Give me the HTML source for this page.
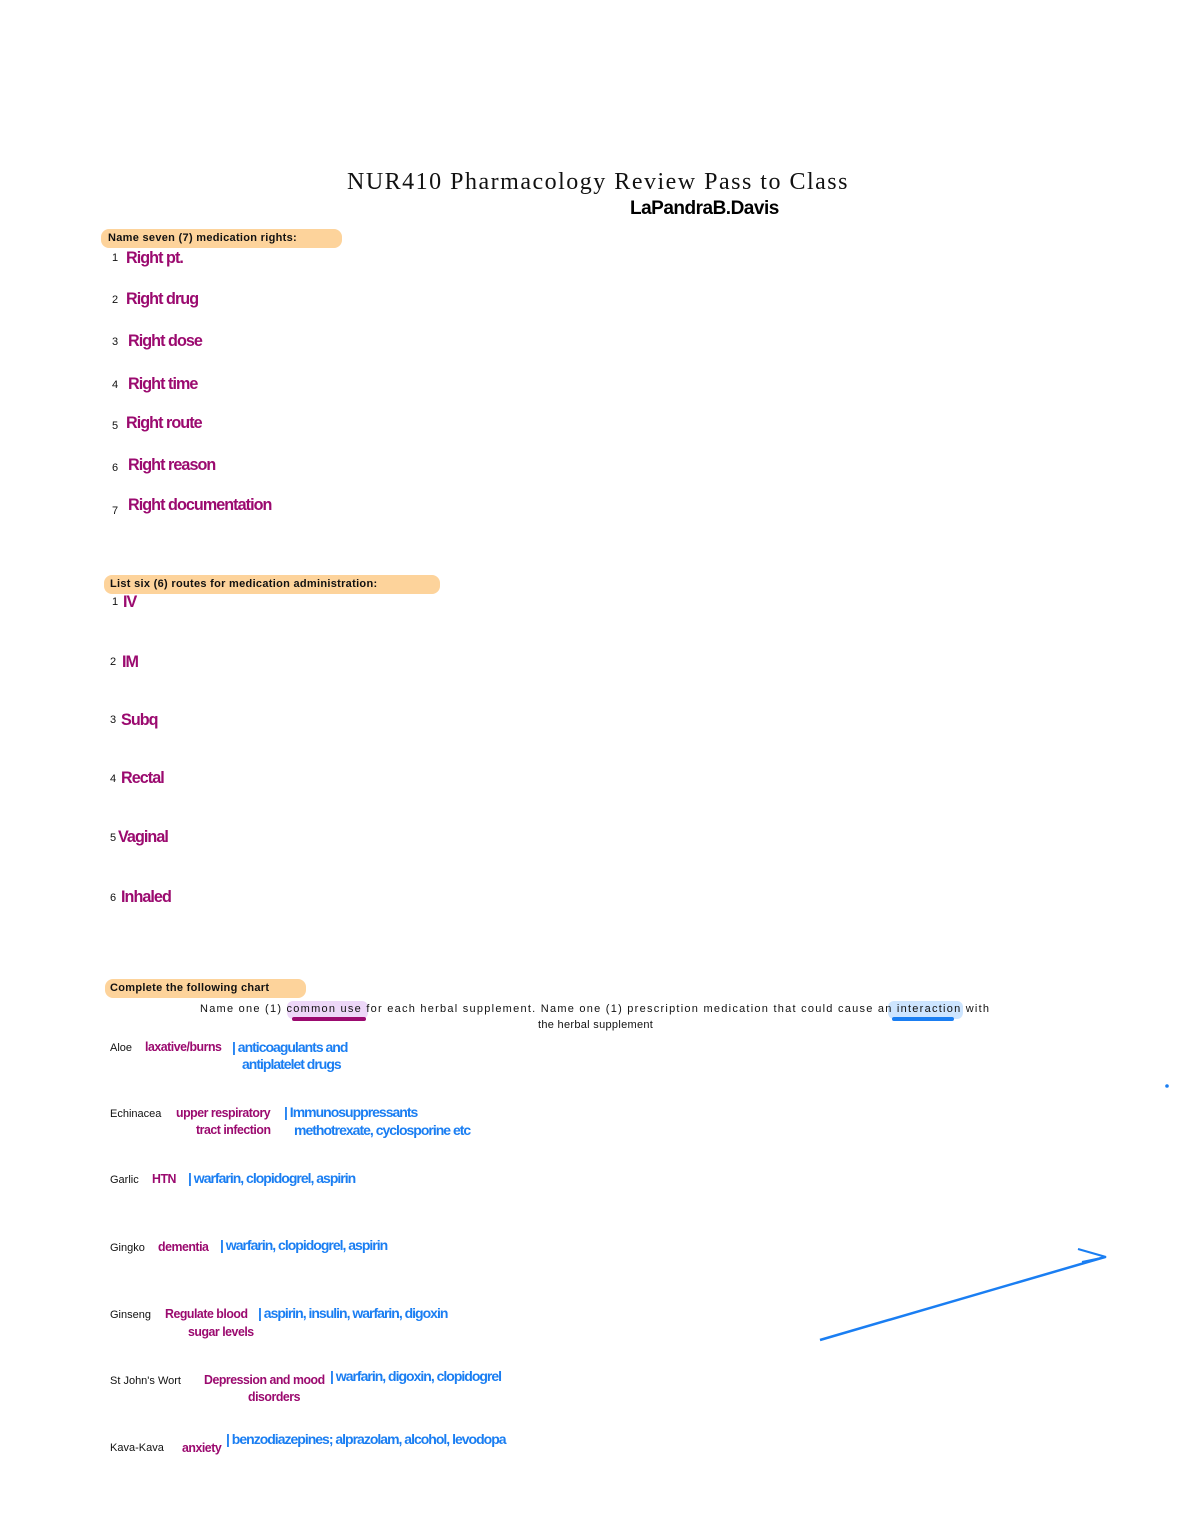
<!DOCTYPE html>
<html><head><meta charset="utf-8"><style>
body{margin:0;background:#fff;}
#p{position:relative;width:1200px;height:1530px;overflow:hidden;font-family:"Liberation Sans",sans-serif;}
.a{position:absolute;white-space:nowrap;}
.hl{position:absolute;background:#fdd39b;border-radius:8px;}
.t{font-size:11px;color:#111;letter-spacing:0.3px;}
.n{font-size:11px;color:#111;}
.m{color:#9b0a6f;font-weight:bold;font-size:17px;letter-spacing:-1px;transform:scaleX(0.95);transform-origin:left;}
.b{color:#1a7ef2;font-weight:bold;font-size:14px;letter-spacing:-1px;}
.s{font-size:13px;font-weight:bold;letter-spacing:-0.5px;}
</style></head><body><div id="p">
<div class="a" style="left:347px;top:169px;font-family:'Liberation Serif',serif;font-size:24px;color:#111;letter-spacing:1.5px;">NUR410 Pharmacology Review Pass to Class</div>
<div class="a" style="left:630px;top:198px;font-size:19px;font-weight:bold;color:#000;letter-spacing:-0.5px;">LaPandraB.Davis</div>

<div class="hl" style="left:101px;top:229px;width:241px;height:19px"></div>
<div class="a t" style="left:108px;top:232px;font-weight:bold">Name seven (7) medication rights:</div>
<div class="a n" style="left:112px;top:252px">1</div><div class="a m" style="left:126px;top:248px">Right pt.</div>
<div class="a n" style="left:112px;top:294px">2</div><div class="a m" style="left:126px;top:289px">Right drug</div>
<div class="a n" style="left:112px;top:336px">3</div><div class="a m" style="left:128px;top:331px">Right dose</div>
<div class="a n" style="left:112px;top:379px">4</div><div class="a m" style="left:128px;top:374px">Right time</div>
<div class="a n" style="left:112px;top:420px">5</div><div class="a m" style="left:126px;top:413px">Right route</div>
<div class="a n" style="left:112px;top:462px">6</div><div class="a m" style="left:128px;top:455px">Right reason</div>
<div class="a n" style="left:112px;top:505px">7</div><div class="a m" style="left:128px;top:495px">Right documentation</div>

<div class="hl" style="left:104px;top:575px;width:336px;height:19px"></div>
<div class="a t" style="left:110px;top:578px;font-weight:bold">List six (6) routes for medication administration:</div>
<div class="a n" style="left:112px;top:596px">1</div><div class="a m" style="left:123px;top:592px">IV</div>
<div class="a n" style="left:110px;top:656px">2</div><div class="a m" style="left:122px;top:652px">IM</div>
<div class="a n" style="left:110px;top:714px">3</div><div class="a m" style="left:121px;top:710px">Subq</div>
<div class="a n" style="left:110px;top:773px">4</div><div class="a m" style="left:121px;top:768px">Rectal</div>
<div class="a n" style="left:110px;top:832px">5</div><div class="a m" style="left:118px;top:827px">Vaginal</div>
<div class="a n" style="left:110px;top:892px">6</div><div class="a m" style="left:121px;top:887px">Inhaled</div>

<div class="hl" style="left:105px;top:979px;width:201px;height:19px"></div>
<div class="a t" style="left:110px;top:982px;font-weight:bold">Complete the following chart</div>
<div class="a" style="left:287px;top:1001px;width:81px;height:18px;background:#edd7f8;border-radius:6px"></div>
<div class="a" style="left:888px;top:1001px;width:75px;height:18px;background:#cde5ff;border-radius:6px"></div>
<div class="a t" style="left:200px;top:1003px;font-size:11px;letter-spacing:1.25px">Name one (1) common use for each herbal supplement. Name one (1) prescription medication that could cause an interaction with</div>
<div class="a t" style="left:538px;top:1019px;font-size:11px;letter-spacing:0.3px">the herbal supplement</div>
<div class="a" style="left:292px;top:1017px;width:74px;height:4px;background:#9b0a6f;border-radius:2px"></div>
<div class="a" style="left:892px;top:1017px;width:62px;height:4px;background:#1a7ef2;border-radius:2px"></div>

<div class="a n" style="left:110px;top:1042px">Aloe</div>
<div class="a m s" style="left:145px;top:1039px">laxative/burns</div>
<div class="a b" style="left:232px;top:1039px">| anticoagulants and</div>
<div class="a b" style="left:242px;top:1056px">antiplatelet drugs</div>

<div class="a n" style="left:110px;top:1108px">Echinacea</div>
<div class="a m s" style="left:176px;top:1105px">upper respiratory</div>
<div class="a m s" style="left:196px;top:1122px">tract infection</div>
<div class="a b" style="left:284px;top:1104px">| Immunosuppressants</div>
<div class="a b" style="left:294px;top:1122px">methotrexate, cyclosporine etc</div>

<div class="a n" style="left:110px;top:1174px">Garlic</div>
<div class="a m s" style="left:152px;top:1171px">HTN</div>
<div class="a b" style="left:188px;top:1170px">| warfarin, clopidogrel, aspirin</div>

<div class="a n" style="left:110px;top:1242px">Gingko</div>
<div class="a m s" style="left:158px;top:1239px">dementia</div>
<div class="a b" style="left:220px;top:1237px">| warfarin, clopidogrel, aspirin</div>

<div class="a n" style="left:110px;top:1309px">Ginseng</div>
<div class="a m s" style="left:165px;top:1306px">Regulate blood</div>
<div class="a m s" style="left:188px;top:1324px">sugar levels</div>
<div class="a b" style="left:258px;top:1305px">| aspirin, insulin, warfarin, digoxin</div>

<div class="a n" style="left:110px;top:1375px">St John's Wort</div>
<div class="a m s" style="left:204px;top:1372px">Depression and mood</div>
<div class="a m s" style="left:248px;top:1389px">disorders</div>
<div class="a b" style="left:330px;top:1368px">| warfarin, digoxin, clopidogrel</div>

<div class="a n" style="left:110px;top:1442px">Kava-Kava</div>
<div class="a m s" style="left:182px;top:1440px">anxiety</div>
<div class="a b" style="left:226px;top:1431px">| benzodiazepines; alprazolam, alcohol, levodopa</div>

<svg class="a" style="left:0;top:0" width="1200" height="1530">
<polyline points="820,1340 1105,1257" stroke="#1a7ef2" stroke-width="2.5" fill="none"/>
<polyline points="1078,1249 1106,1257 1082,1262" stroke="#1a7ef2" stroke-width="2" fill="none"/>
<circle cx="1167" cy="1086" r="1.8" fill="#1a7ef2"/>
</svg>
</div></body></html>
